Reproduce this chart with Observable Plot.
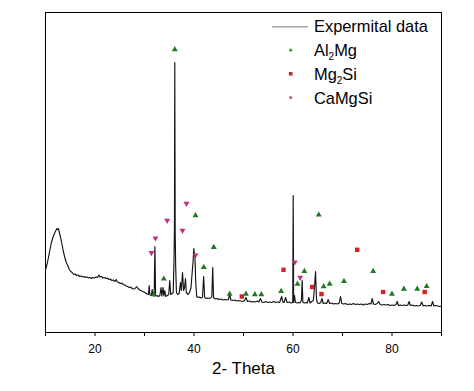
<!DOCTYPE html>
<html><head><meta charset="utf-8">
<script src="https://cdn.jsdelivr.net/npm/d3@7"></script>
<script src="https://cdn.jsdelivr.net/npm/@observablehq/plot@0.6"></script>
<style>
body{margin:0;background:#fff;font-family:"Liberation Sans",Arial,sans-serif;}
#wrap{position:relative;width:474px;height:391px;}
#legend{position:absolute;left:272px;top:14.8px;}
.row{display:flex;align-items:center;height:23.7px;line-height:1;}
.sym{width:42px;height:23.7px;display:block;flex:none;}
.lab{font-size:16.4px;color:#000;white-space:nowrap;}
.lab sub{font-size:10px;vertical-align:-4px;line-height:0;}
</style></head><body>
<div id="wrap"><div id="chart"></div><div id="legend"></div></div>
<script>
// Experimental XRD pattern (2-theta in degrees, intensity in arbitrary units)
const theta = [10.0,10.3,10.6,10.9,11.2,11.5,11.8,12.1,12.3,12.45,12.6,12.8,13.0,13.3,13.6,13.9,14.2,14.5,14.8,15.1,15.4,15.7,16.0,16.3,16.6,16.9,17.2,17.5,17.8,18.1,18.4,18.7,19.0,19.3,19.6,19.9,20.2,20.5,20.8,21.0,21.3,21.6,21.9,22.2,22.5,22.8,23.1,23.4,23.7,24.0,24.3,24.5,24.8,25.1,25.4,25.7,26.0,26.3,26.6,26.9,27.2,27.5,27.8,28.1,28.4,28.7,29.0,29.3,29.6,29.9,30.2,30.5,30.8,30.95,31.1,31.4,31.55,31.7,31.95,32.1,32.25,32.5,32.8,33.1,33.35,33.5,33.75,33.9,34.1,34.3,34.6,34.9,35.1,35.3,35.6,35.8,35.95,36.05,36.12,36.2,36.3,36.45,36.7,37.0,37.27,37.45,37.68,37.9,38.1,38.28,38.45,38.8,39.1,39.4,39.63,39.8,39.96,40.1,40.2,40.35,40.55,40.8,41.1,41.4,41.7,41.95,42.15,42.5,42.8,43.1,43.4,43.6,43.78,43.95,44.3,44.7,45.0,45.4,45.8,46.2,46.6,46.95,47.2,47.45,47.8,48.2,48.6,49.0,49.4,49.8,50.2,50.5,50.8,51.2,51.6,52.0,52.4,52.8,53.1,53.4,53.7,54.1,54.5,54.9,55.3,55.7,56.1,56.5,56.9,57.3,57.7,57.95,58.2,58.5,58.8,59.2,59.6,59.95,60.04,60.13,60.3,60.5,60.8,61.1,61.4,61.7,61.85,62.0,62.3,62.6,62.9,63.2,63.45,63.8,64.1,64.35,64.55,64.75,64.95,65.3,65.6,65.85,66.1,66.5,66.8,67.1,67.4,67.8,68.2,68.6,69.0,69.35,69.6,69.85,70.2,70.6,71.0,71.4,71.8,72.2,72.6,73.0,73.4,73.8,74.2,74.6,75.0,75.4,75.75,76.0,76.25,76.6,77.0,77.3,77.6,78.0,78.4,78.8,79.2,79.6,80.0,80.4,80.8,81.05,81.3,81.7,82.1,82.5,82.9,83.2,83.45,83.7,84.1,84.5,84.9,85.3,85.7,86.0,86.3,86.7,87.1,87.5,87.9,88.2,88.45,88.8,89.2,89.6,90.0];
const counts = [63,68,75,83,90,95,99,102,104,103,104,100,96,89,81,75,70,67,63,61,60,58,58.5,57,57.5,56,56.5,55.5,56,55,55.5,54.5,55,54,55,54.5,55.5,55,57.5,55.5,56,54.5,55,54,54.5,53,53.5,52,52.5,51,53,50.5,50,49,49.5,48,47.5,46.5,46,45,45.5,44,43.5,44,46,44,42.5,42,41,40.5,39.5,38.5,38,47,37.5,37,43,37,36.5,86,36.5,37,36,37,45,36.5,45,36.5,42,36,37,38,52,38,39,40,70,102,270,100,66,40,38,39,50,42,60,42,45,54,40,38,40,45,60,70,84,78,75,50,36,35,35.5,34.5,35,56,35,34,34.5,34,34.5,36,65,35,33.5,34,33,33.5,32.5,33,32.5,33,38,32.5,32,32.5,31.5,32,31.5,31,32,35,31,31.5,30.5,31,30.5,31.5,30.5,34,30.5,30,31,30,30.5,30,31,30,30.5,30,36,30.5,30,35,30,30.5,29.5,30,137,30,37,30,29.5,30,29.5,32,52,30,29.5,30,29.5,35,29.5,31,32,45,61,33,29.5,29,30,34,29,29.5,29,33,29,29.5,28.5,29,28.5,29.5,36,29,28.5,29,28,28.5,28,29,28,28.5,28,28.5,27.5,28.5,28,29,28.5,34,28.5,28,29,31,28,27.5,28,27.5,28,27,27.5,27,28,31,27,27.5,27,27.5,27,27.5,31,27,27.5,26.5,27,26.5,27,30.5,26.5,27,26.5,27,26.5,31,26.5,27,26.5,26,26.5];

// Phase reference peaks (marker positions)
const al2mgTheta = [36.12,40.3,44.0,41.98,33.9,31.9,47.2,50.5,52.3,53.6,57.6,60.9,62.3,65.2,66.2,67.4,70.3,76.2,80.0,82.4,85.1,87.0];
const al2mgI     = [283,117,85.3,65.3,53.7,38,38.5,38.5,38,38,41.3,48.5,61.3,117.7,46,48.5,51.3,61.3,38.5,43.5,43.5,46.2];
const mg2siTheta = [49.66,58.08,63.87,65.76,72.97,78.2,86.6];
const mg2siI     = [36,62.7,45.5,38.4,82.7,40.5,40.5];
const camgsiTheta = [31.41,32.22,34.58,37.68,38.48,40.3,60.37,61.45];
const camgsiI     = [79.7,94.3,112,102,129,77.3,70.3,55];

const xTicks = [10,20,30,40,50,60,70,80,90];
const xTickLabels = [20,40,60,80];
const xLabel = "2- Theta";
const legendLabels = ["Expermital data","Al2Mg","Mg2Si","CaMgSi"];

const lineColor = "#141414";
const green = "#1f7a1f", red = "#d3232a", magenta = "#c2307c";

const pattern = theta.map((t,i)=>({theta:t, I:counts[i]}));
const al2mg = al2mgTheta.map((t,i)=>({theta:t, I:al2mgI[i]}));
const mg2si = mg2siTheta.map((t,i)=>({theta:t, I:mg2siI[i]}));
const camgsi = camgsiTheta.map((t,i)=>({theta:t, I:camgsiI[i]}));

const triDown = {draw(ctx, size){
  const s3 = Math.sqrt(3);
  const y = -Math.sqrt(size/(s3*3));
  ctx.moveTo(0, -y*2); ctx.lineTo(-s3*y, y); ctx.lineTo(s3*y, y); ctx.closePath();
}};

const chart = Plot.plot({
  width: 474, height: 391,
  marginLeft: 45, marginRight: 33, marginTop: 12, marginBottom: 59,
  style: {fontFamily: '"Liberation Sans", Arial, sans-serif', color: "#000", background: "#fff"},
  x: {domain: [10, 90], axis: null},
  y: {domain: [0, 320], axis: null},
  marks: [
    Plot.line(pattern, {x: "theta", y: "I", stroke: lineColor, strokeWidth: 1.15}),
    Plot.dot(al2mg, {x: "theta", y: "I", symbol: "triangle", r: 2.2, fill: green}),
    Plot.dot(mg2si, {x: "theta", y: "I", symbol: "square", r: 2.5, fill: red}),
    Plot.dot(camgsi, {x: "theta", y: "I", symbol: triDown, r: 2.2, fill: magenta}),
    Plot.frame({stroke: "#000", strokeWidth: 1}),
    Plot.axisX({ticks: xTicks, tickSize: 4, tickPadding: 8, fontSize: 12, label: null,
      tickFormat: d => xTickLabels.includes(d) ? String(d) : ""}),
    Plot.text([xLabel], {frameAnchor: "bottom", dy: 41, fontSize: 17, text: d => d, fill: "#000"})
  ]
});
document.getElementById("chart").appendChild(chart);

// legend
const legendSyms = [
  '<line x1="0" x2="36" y1="11.85" y2="11.85" stroke="#777" stroke-width="1"/>',
  `<polygon points="18.7,9.9 20.6,13.2 16.8,13.2" fill="${green}"/>`,
  `<rect x="16.9" y="10" width="3.6" height="3.6" fill="${red}"/>`,
  `<polygon points="18.7,13.8 20.6,10.5 16.8,10.5" fill="${magenta}"/>`
];
const leg = document.getElementById("legend");
legendLabels.forEach((lab,i)=>{
  const row = document.createElement("div");
  row.className = "row";
  const html = lab.replace(/(\d)/g, "<sub>$1</sub>");
  row.innerHTML = `<svg class="sym" viewBox="0 0 42 23.7">${legendSyms[i]}</svg><span class="lab">${html}</span>`;
  leg.appendChild(row);
});
</script>
</body></html>
